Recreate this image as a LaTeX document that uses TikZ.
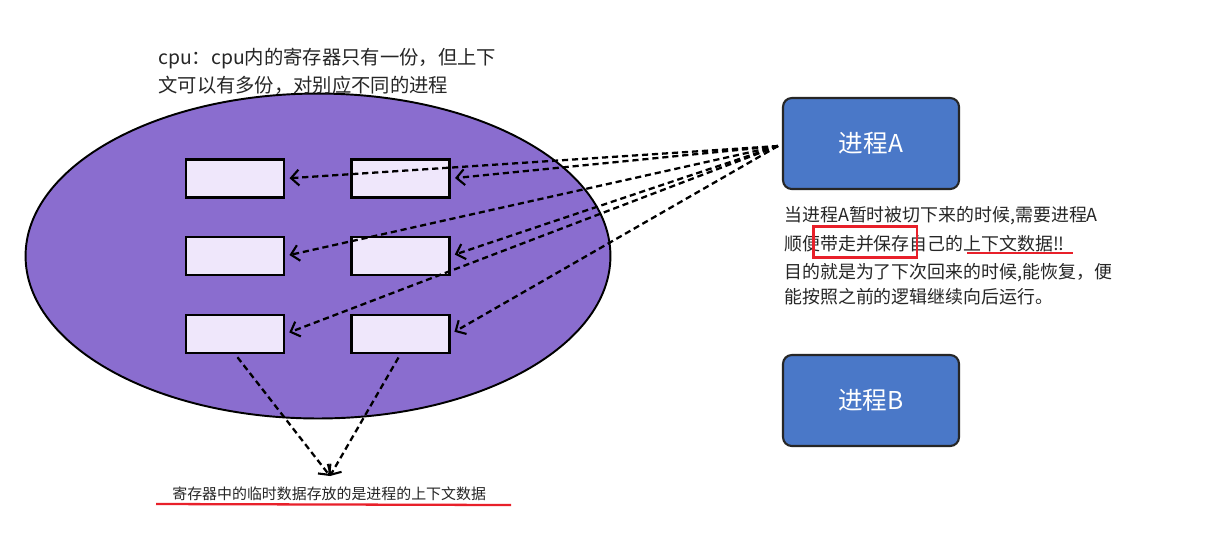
\documentclass[tikz,border=0pt]{standalone}
\usepackage{fontspec}
\setmainfont{Noto Sans CJK SC}
\usetikzlibrary{arrows.meta,shapes.geometric}
\definecolor{cpupurple}{HTML}{8A6DCF}
\definecolor{regfill}{HTML}{EFE7FB}
\definecolor{procblue}{HTML}{4A78C8}
\definecolor{txtgray}{HTML}{262626}
\definecolor{hlred}{HTML}{E8202A}
\begin{document}
\begin{tikzpicture}[x=0.02cm,y=-0.02cm,
  reg/.style={draw=black, line width=1.2pt, fill=regfill, minimum width=1.96cm, minimum height=0.76cm, inner sep=0pt},
  proc/.style={draw=black!85, line width=1.2pt, fill=procblue, rounded corners=5pt, minimum width=3.52cm, minimum height=1.82cm, text=white, font=\fontsize{14}{16}\selectfont},
  dasharrow/.style={draw=black, line width=1.3pt, dash pattern=on 3.5pt off 2.2pt, -{Straight Barb[length=4.5pt,width=9pt,line width=1.2pt]}},
  lbl/.style={anchor=base west, inner sep=0pt, text=txtgray},
  redline/.style={draw=hlred, line width=1.3pt}]
\useasboundingbox (0,0) rectangle (1223,539);
\fill[white] (0,0) rectangle (1223,539);
% CPU ellipse
\node[ellipse, draw=black, line width=1.1pt, fill=cpupurple, minimum width=11.7cm, minimum height=6.5cm, inner sep=0pt] (cpu) at (318,256) {};
% registers
\node[reg] (r11) at (235,178.5) {};
\node[reg] (r12) at (400.5,178.5) {};
\node[reg] (r21) at (235,256) {};
\node[reg] (r22) at (400.5,256) {};
\node[reg] (r31) at (235,334) {};
\node[reg] (r32) at (400.5,334) {};
% processes
\node[proc] (pa) at (871,143.5) {进程A};
\node[proc] (pb) at (871,400.5) {进程B};
% texts
\node[lbl, font=\fontsize{11}{13}\selectfont] (c1) at (158,64.5) {cpu：cpu内的寄存器只有一份，但上下};
\node[lbl, font=\fontsize{11}{13}\selectfont] (c2) at (158,92.5) {文可以有多份，对别应不同的进程};
\node[lbl, font=\fontsize{10.2}{12}\selectfont] (t1) at (784,221.5) {当进程A暂时被切下来的时候,需要进程A};
\node[lbl, font=\fontsize{10.2}{12}\selectfont] (t2) at (784,250.5) {顺便带走并保存自己的上下文数据!!};
\node[lbl, font=\fontsize{10.2}{12}\selectfont] (t3) at (784,278.5) {目的就是为了下次回来的时候,能恢复，便};
\node[lbl, font=\fontsize{10.2}{12}\selectfont] (t4) at (784,303.5) {能按照之前的逻辑继续向后运行。};
\node[lbl, font=\fontsize{8.5}{10}\selectfont] (bt) at (172,499.5) {寄存器中的临时数据存放的是进程的上下文数据};
% highlight
\node[draw=hlred, line width=1.7pt, minimum width=2.08cm, minimum height=0.62cm, inner sep=0pt] (hl) at (865,241.5) {};
\coordinate (u1) at (967,253);
\coordinate (u2) at (1073,253);
\draw[redline] (u1) -- (u2);
\coordinate (b1) at (156,504);
\coordinate (b2) at (511,505);
\draw[redline] (b1) -- (b2);
% arrows from process A
\coordinate (src) at (778,146);
\foreach \t in {r11,r12,r21,r22,r31,r32}
  \draw[dasharrow, shorten >=0.09cm] (src) -- (\t.east);
% bottom arrows
\coordinate (meet) at (330,476);
\draw[dasharrow, shorten <=0.08cm] (r31.south) -- (meet);
\draw[dasharrow, shorten <=0.08cm] (r32.south) -- (meet);
\end{tikzpicture}
\end{document}
